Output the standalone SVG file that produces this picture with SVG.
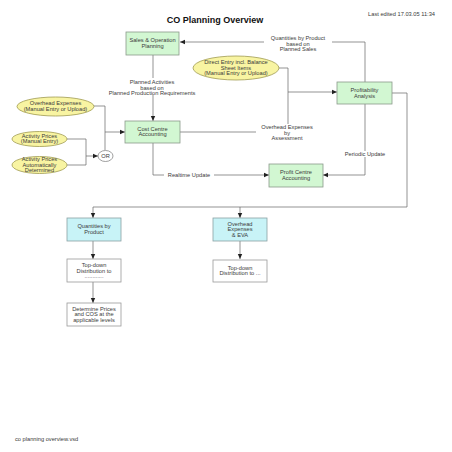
<svg xmlns="http://www.w3.org/2000/svg" width="452" height="452" viewBox="0 0 452 452">
<defs>
<marker id="arr" markerWidth="6" markerHeight="6" refX="5" refY="3" orient="auto" markerUnits="userSpaceOnUse">
<path d="M0,0.8 L5,3 L0,5.2 z" fill="#222"/>
</marker>
<style>
.t{font-family:"Liberation Sans",Arial,sans-serif;font-size:5.7px;fill:#3a3a3a;text-anchor:middle}
.g{fill:#d2f7d2;stroke:#8a9a8a;stroke-width:0.8}
.c{fill:#c8f3f7;stroke:#8aa0a4;stroke-width:0.8}
.w{fill:#fff;stroke:#999;stroke-width:0.8}
.y{fill:#f8f4a2;stroke:#a09a50;stroke-width:0.8}
.ln{fill:none;stroke:#666;stroke-width:0.7}
.lb{fill:#fff;stroke:none}
</style>
</defs>
<rect width="452" height="452" fill="#fff"/>
<text x="215" y="23" style="font-family:'Liberation Sans',Arial,sans-serif;font-size:9px;font-weight:bold;fill:#111" text-anchor="middle">CO Planning Overview</text>
<text x="435" y="16" class="t" style="text-anchor:end">Last edited 17.03.05 11:34</text>
<text x="15" y="441" class="t" style="text-anchor:start">co planning overview.vsd</text>

<g id="connectors">
<path class="ln" d="M365,82 V42 H180" marker-end="url(#arr)"/>
<path class="ln" d="M153,55 V121" marker-end="url(#arr)"/>
<path class="ln" d="M279,68 H288 V92 H337" marker-end="url(#arr)"/>
<path class="ln" d="M180,132 H288 V92"/>
<path class="ln" d="M94,106 H105 V150"/>
<path class="ln" d="M105,132 H125" marker-end="url(#arr)"/>
<path class="ln" d="M67,139 H86 V165 H67"/>
<path class="ln" d="M86,156 H98" marker-end="url(#arr)"/>
<path class="ln" d="M153,143 V175 H269" marker-end="url(#arr)"/>
<path class="ln" d="M365,104 V175 H323" marker-end="url(#arr)"/>
<path class="ln" d="M392,93 H407 V207 H93 V218" marker-end="url(#arr)"/>
<path class="ln" d="M240,207 V218" marker-end="url(#arr)"/>
<path class="ln" d="M93,241 V259" marker-end="url(#arr)"/>
<path class="ln" d="M240,241 V259" marker-end="url(#arr)"/>
<path class="ln" d="M93,282 V303" marker-end="url(#arr)"/>
<rect class="lb" x="264" y="34" width="68" height="17"/>
<text class="t" x="298" y="40">Quantities by  Product</text>
<text class="t" x="298" y="45.5">based on</text>
<text class="t" x="298" y="51">Planned Sales</text>
<rect class="lb" x="106" y="78" width="94" height="17"/>
<text class="t" x="152" y="84">Planned Activities</text>
<text class="t" x="152" y="89.5">based on</text>
<text class="t" x="152" y="95">Planned Production Requirements</text>
<rect class="lb" x="256" y="124" width="64" height="16"/>
<text class="t" x="287" y="129">Overhead Expenses</text>
<text class="t" x="287" y="134.5">by</text>
<text class="t" x="287" y="140">Assessment</text>
<rect class="lb" x="164" y="172" width="50" height="6"/>
<text class="t" x="189" y="177">Realtime Update</text>
<rect class="lb" x="341" y="151" width="48" height="6"/>
<text class="t" x="365" y="156">Periodic Update</text>
</g>

<g id="sales">
<rect class="g" x="126" y="32" width="53" height="23"/>
<text class="t" x="152.5" y="42">Sales &amp; Operation</text>
<text class="t" x="152.5" y="47.5">Planning</text>
</g>
<g id="direct-entry">
<ellipse class="y" cx="236" cy="68" rx="43" ry="12"/>
<text class="t" x="236" y="64">Direct  Entry incl.  Balance</text>
<text class="t" x="236" y="69.5">Sheet Items</text>
<text class="t" x="236" y="75">(Manual Entry or Upload)</text>
</g>
<g id="profitability">
<rect class="g" x="337" y="82" width="55" height="22"/>
<text class="t" x="364.5" y="92">Profitability</text>
<text class="t" x="364.5" y="97.5">Analysis</text>
</g>
<g id="overhead-expenses">
<ellipse class="y" cx="55.5" cy="106.5" rx="38.5" ry="9.5"/>
<text class="t" x="55.5" y="105">Overhead Expenses</text>
<text class="t" x="55.5" y="110.5">(Manual Entry or Upload)</text>
</g>
<g id="cost-centre">
<rect class="g" x="125" y="121" width="55" height="22"/>
<text class="t" x="152.5" y="130.5">Cost Centre</text>
<text class="t" x="152.5" y="136">Accounting</text>
</g>
<g id="activity-manual">
<ellipse class="y" cx="39.5" cy="139" rx="27.5" ry="7.5"/>
<text class="t" x="39.5" y="137.5">Activity Prices</text>
<text class="t" x="39.5" y="143">(Manual Entry)</text>
</g>
<g id="activity-auto">
<ellipse class="y" cx="39.5" cy="165" rx="27.5" ry="8.5"/>
<text class="t" x="39.5" y="161">Activity Prices</text>
<text class="t" x="39.5" y="166.5">Automatically</text>
<text class="t" x="39.5" y="172">Determined</text>
</g>
<g id="or">
<ellipse cx="105.5" cy="156" rx="7.5" ry="5.5" fill="#fff" stroke="#777" stroke-width="0.7"/>
<text class="t" x="105.5" y="158">OR</text>
</g>
<g id="profit-centre">
<rect class="g" x="269" y="164" width="54" height="23"/>
<text class="t" x="296" y="174">Profit Centre</text>
<text class="t" x="296" y="179.5">Accounting</text>
</g>
<g id="quantities">
<rect class="c" x="67" y="218" width="54" height="23"/>
<text class="t" x="94" y="228">Quantities by</text>
<text class="t" x="94" y="233.5">Product</text>
</g>
<g id="overhead-eva">
<rect class="c" x="213" y="218" width="54" height="23"/>
<text class="t" x="240" y="225.5">Overhead</text>
<text class="t" x="240" y="231">Expenses</text>
<text class="t" x="240" y="236.5">&amp; EVA</text>
</g>
<g id="topdown1">
<rect class="w" x="67" y="259" width="54" height="23"/>
<text class="t" x="94" y="267">Top-down</text>
<text class="t" x="94" y="272.5">Distribution to</text>
<text class="t" x="94" y="278">............</text>
</g>
<g id="topdown2">
<rect class="w" x="213" y="260" width="54" height="22"/>
<text class="t" x="240" y="269.5">Top-down</text>
<text class="t" x="240" y="275">Distribution to ...</text>
</g>
<g id="determine">
<rect class="w" x="67" y="303" width="54" height="23"/>
<text class="t" x="94" y="310.5">Determine Prices</text>
<text class="t" x="94" y="316">and COS at the</text>
<text class="t" x="94" y="321.5">applicable levels</text>
</g>
</svg>
